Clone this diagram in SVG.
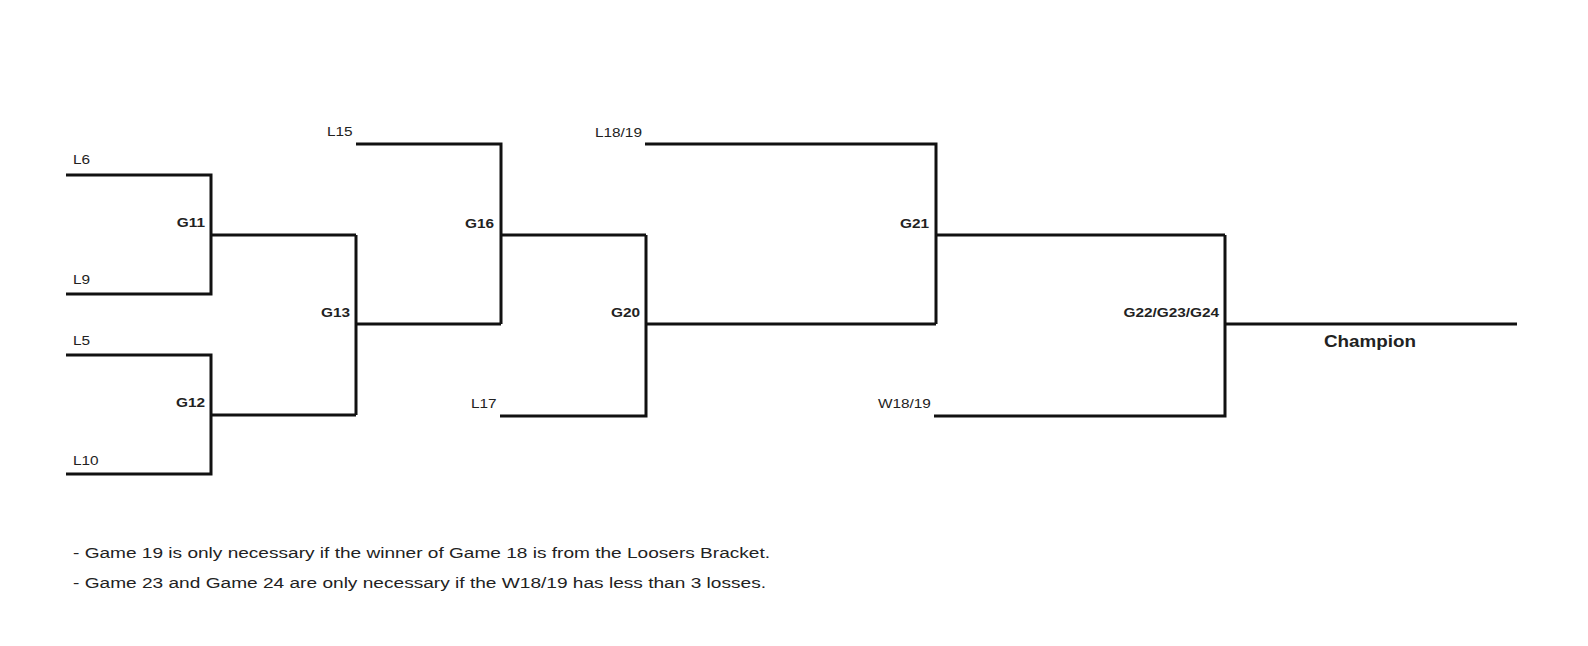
<svg xmlns="http://www.w3.org/2000/svg" width="1588" height="646" viewBox="0 0 1588 646">
<style>
.bg{fill:#ffffff}
.ln{fill:none;stroke:#111111;stroke-width:3;stroke-linejoin:miter}
.in{font-family:"Liberation Sans",Arial,sans-serif;font-size:12px;fill:#222222}
.gm{font-family:"Liberation Sans",Arial,sans-serif;font-size:12px;font-weight:bold;fill:#222222;text-anchor:end}
.ch{font-family:"Liberation Sans",Arial,sans-serif;font-size:16px;font-weight:bold;fill:#222222}
.nt{font-family:"Liberation Sans",Arial,sans-serif;font-size:14px;fill:#222222}
</style>
<rect class="bg" x="0" y="0" width="1588" height="646"/>
<g id="connectors">
<path class="ln" d="M66,175 H211 V294 H66"/>
<path class="ln" d="M211,235 H356"/>
<path class="ln" d="M66,355 H211 V474 H66"/>
<path class="ln" d="M211,415 H356"/>
<path class="ln" d="M356,235 V415"/>
<path class="ln" d="M356,324 H501"/>
<path class="ln" d="M356,144 H501 V324"/>
<path class="ln" d="M501,235 H646"/>
<path class="ln" d="M646,235 V416 H500"/>
<path class="ln" d="M646,324 H936"/>
<path class="ln" d="M645,144 H936 V324"/>
<path class="ln" d="M936,235 H1225"/>
<path class="ln" d="M1225,235 V416 H934"/>
<path class="ln" d="M1225,324 H1517"/>
</g>
<g id="inputs">
<text class="in" transform="matrix(1.28 0 0 1 73 164)">L6</text>
<text class="in" transform="matrix(1.28 0 0 1 73 284)">L9</text>
<text class="in" transform="matrix(1.28 0 0 1 73 345)">L5</text>
<text class="in" transform="matrix(1.28 0 0 1 73 465)">L10</text>
<text class="in" transform="matrix(1.28 0 0 1 327 136)">L15</text>
<text class="in" transform="matrix(1.28 0 0 1 471 408)">L17</text>
<text class="in" transform="matrix(1.28 0 0 1 595 137)">L18/19</text>
<text class="in" transform="matrix(1.28 0 0 1 878 408)">W18/19</text>
</g>
<g id="G11"><text class="gm" transform="matrix(1.28 0 0 1 205 227)">G11</text></g>
<g id="G12"><text class="gm" transform="matrix(1.28 0 0 1 205 407)">G12</text></g>
<g id="G13"><text class="gm" transform="matrix(1.28 0 0 1 350 317)">G13</text></g>
<g id="G16"><text class="gm" transform="matrix(1.28 0 0 1 494 228)">G16</text></g>
<g id="G20"><text class="gm" transform="matrix(1.28 0 0 1 640 317)">G20</text></g>
<g id="G21"><text class="gm" transform="matrix(1.28 0 0 1 929 228)">G21</text></g>
<g id="G22"><text class="gm" transform="matrix(1.28 0 0 1 1219 317)">G22/G23/G24</text></g>
<g id="champion"><text class="ch" x="1324" y="347" textLength="92" lengthAdjust="spacingAndGlyphs">Champion</text></g>
<g id="notes">
<text class="nt" x="73" y="558" textLength="697" lengthAdjust="spacingAndGlyphs">- Game 19 is only necessary if the winner of Game 18 is from the Loosers Bracket.</text>
<text class="nt" x="73" y="588" textLength="693" lengthAdjust="spacingAndGlyphs">- Game 23 and Game 24 are only necessary if the W18/19 has less than 3 losses.</text>
</g>
</svg>
